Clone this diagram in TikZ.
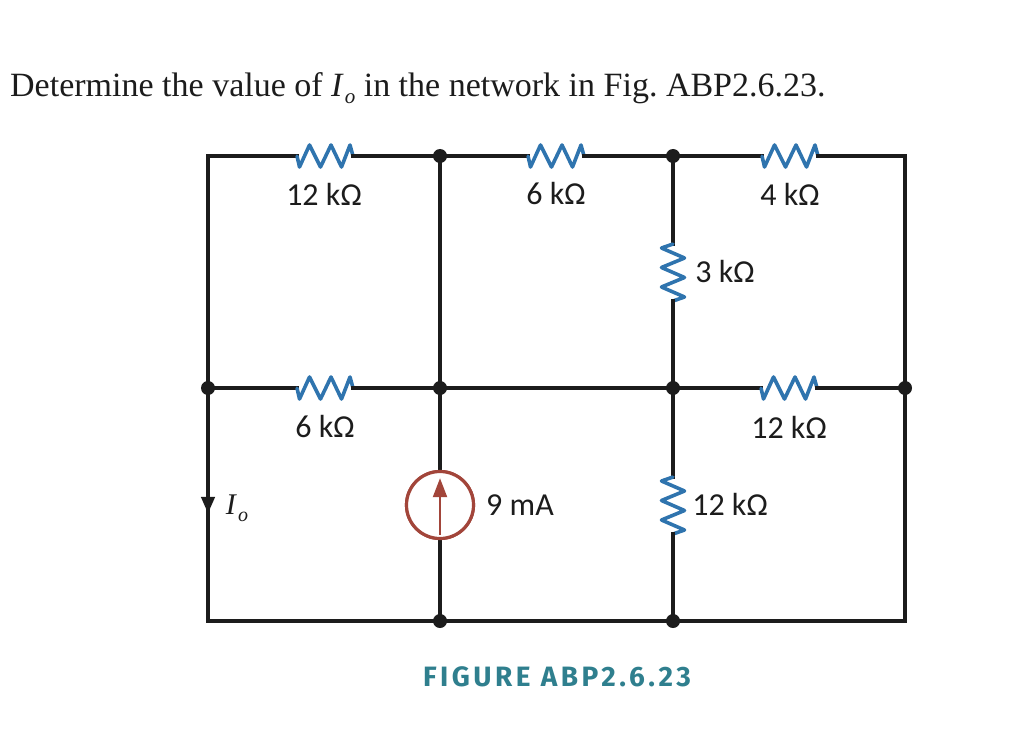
\documentclass[tikz,border=0pt]{standalone}
\usepackage{fontspec}
\setmainfont{Liberation Serif}
\newfontfamily\labelfont{Carlito}
\newfontfamily\capfont[LetterSpace=12.5]{Fira Sans}
\usetikzlibrary{arrows.meta, positioning}
\definecolor{wireblack}{HTML}{1C1C1C}
\definecolor{resblue}{HTML}{2F74AE}
\definecolor{srcred}{HTML}{A2453A}
\definecolor{capteal}{HTML}{2F7F8E}
\begin{document}
\begin{tikzpicture}[
    x=1pt, y=-1pt,
    on grid,
    wire/.style={line width=4.5pt, color=wireblack, line cap=rect},
    dot/.style={circle, fill=wireblack, inner sep=0pt, minimum size=14pt},
    joint/.style={inner sep=0pt, minimum size=0pt},
    res/.style={line width=3.6pt, color=resblue, line join=round, line cap=round,
        to path={-- ++(2.5,11) -- ++(10,-22) -- ++(11,22) -- ++(10.5,-22)
            -- ++(10.5,22) -- ++(8.5,-22) -- (\tikztotarget)}},
    vres/.style={line width=3.6pt, color=resblue, line join=round, line cap=round,
        to path={-- ++(-11.5,4) -- ++(23,10) -- ++(-23,9.5) -- ++(23,10)
            -- ++(-23,9.5) -- ++(23,10) -- (\tikztotarget)}},
    value/.style={font=\labelfont\fontsize{32}{32}\selectfont, text=wireblack, inner sep=0pt},
    source/.style={circle, draw=srcred, line width=3.2pt, fill=white, inner sep=0pt, minimum size=67pt},
    arrow/.style={line width=2.2pt, color=srcred, -{Triangle[length=19pt, width=14pt]}},
    sense/.style={line width=4.5pt, color=wireblack, -{Triangle[length=17pt, width=13pt]}}
]
    \useasboundingbox (0,0) rectangle (1024,746);

    % Define nodes
    \node (title) [anchor=base west, inner sep=0pt, font=\fontsize{34}{34}\selectfont, text=wireblack]
        at (10,97) {Determine the value of \textit{I}\kern1pt\raisebox{-7pt}{\fontsize{21}{21}\selectfont\textit{o}} in the network in Fig.\ ABP2.6.23.};

    \node (tl) [joint] at (208,156) {};
    \node (tm) [dot, right=232pt of tl] {};
    \node (tn) [dot, right=233pt of tm] {};
    \node (tr) [joint, right=232pt of tn] {};

    \node (ml) [dot, below=232pt of tl] {};
    \node (mm) [dot, below=232pt of tm] {};
    \node (mn) [dot, below=232pt of tn] {};
    \node (mr) [dot, below=232pt of tr] {};

    \node (bl) [joint, below=233pt of ml] {};
    \node (bm) [dot, below=233pt of mm] {};
    \node (bn) [dot, below=233pt of mn] {};
    \node (br) [joint, below=233pt of mr] {};

    % Resistor ends
    \node (r1a) [joint, right=89pt of tl] {};
    \node (r1b) [joint, right=56pt of r1a] {};
    \node (r2a) [joint, right=88pt of tm] {};
    \node (r2b) [joint, right=56pt of r2a] {};
    \node (r3a) [joint, right=89pt of tn] {};
    \node (r3b) [joint, right=56pt of r3a] {};
    \node (r4a) [joint, right=89pt of ml] {};
    \node (r4b) [joint, right=56pt of r4a] {};
    \node (r5a) [joint, right=88pt of mn] {};
    \node (r5b) [joint, right=56pt of r5a] {};
    \node (r6a) [joint, below=88pt of tn] {};
    \node (r6b) [joint, below=57pt of r6a] {};
    \node (r7a) [joint, below=89pt of mn] {};
    \node (r7b) [joint, below=57pt of r7a] {};

    % Source and current marker
    \node (src) [source, below=117pt of mm] {};
    \node (srcfoot) [joint, below=30pt of src] {};
    \node (srctip) [joint, above=27pt of src] {};
    \node (iotail) [joint, below=98pt of ml] {};
    \node (iotip) [joint, below=126pt of ml] {};

    % Values
    \node (v1) [value, below right=38pt and 27pt of r1a] {12 kΩ};
    \node (v2) [value, below right=38pt and 28pt of r2a] {6 kΩ};
    \node (v3) [value, below right=38pt and 28pt of r3a] {4 kΩ};
    \node (v4) [value, below right=39pt and 28pt of r4a] {6 kΩ};
    \node (v5) [value, below right=39pt and 28pt of r5a] {12 kΩ};
    \node (v6) [value, below right=115pt and 52pt of tn] {3 kΩ};
    \node (v7) [value, below right=116pt and 57pt of mn] {12 kΩ};
    \node (v8) [value, right=80pt of src] {9 mA};
    \node (io) [below right=120pt and 29pt of ml, inner sep=0pt, text=wireblack, font=\fontsize{30}{30}\selectfont]
        {\textit{I}\kern1pt\raisebox{-7pt}{\fontsize{20}{20}\selectfont\textit{o}}};

    \node (cap) [below right=289pt and 117pt of mm, inner sep=0pt, text=capteal,
        font=\capfont\bfseries\fontsize{28}{28}\selectfont] {FIGURE ABP2.6.23};

    % Draw connections
    \draw [wire] (tl) -- (r1a);
    \draw [res] (r1a) to (r1b);
    \draw [wire] (r1b) -- (tm);
    \draw [wire] (tm) -- (r2a);
    \draw [res] (r2a) to (r2b);
    \draw [wire] (r2b) -- (tn);
    \draw [wire] (tn) -- (r3a);
    \draw [res] (r3a) to (r3b);
    \draw [wire] (r3b) -- (tr) -- (mr);

    \draw [wire] (tl) -- (ml);
    \draw [wire] (tm) -- (mm);
    \draw [wire] (tn) -- (r6a);
    \draw [vres] (r6a) to (r6b);
    \draw [wire] (r6b) -- (mn);

    \draw [wire] (ml) -- (r4a);
    \draw [res] (r4a) to (r4b);
    \draw [wire] (r4b) -- (mm);
    \draw [wire] (mm) -- (mn);
    \draw [wire] (mn) -- (r5a);
    \draw [res] (r5a) to (r5b);
    \draw [wire] (r5b) -- (mr);

    \draw [wire] (ml) -- (bl) -- (bm);
    \draw [wire] (bm) -- (bn);
    \draw [wire] (bn) -- (br) -- (mr);
    \draw [wire] (mm) -- (src);
    \draw [wire] (src) -- (bm);
    \draw [wire] (mn) -- (r7a);
    \draw [vres] (r7a) to (r7b);
    \draw [wire] (r7b) -- (bn);

    \node [source] at (src) {};
    \draw [arrow] (srcfoot) -- (srctip);
    \draw [sense] (iotail) -- (iotip);
\end{tikzpicture}
\end{document}
